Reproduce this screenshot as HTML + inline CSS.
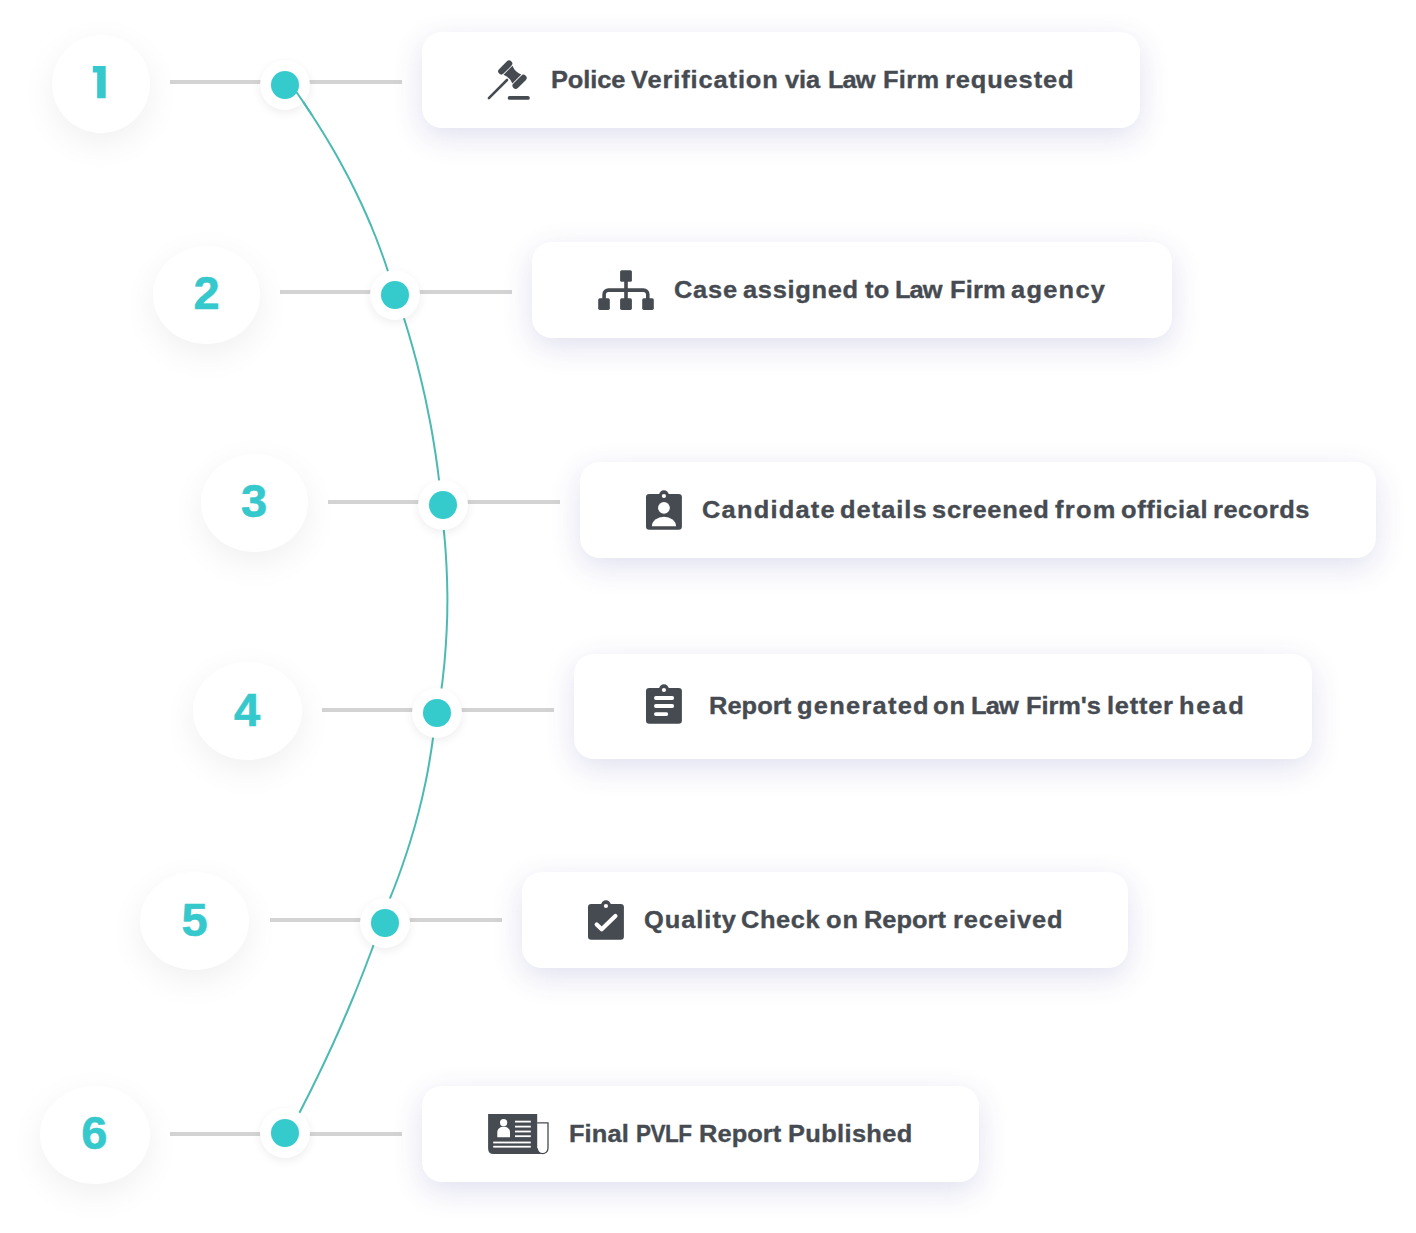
<!DOCTYPE html>
<html><head><meta charset="utf-8">
<style>
*{margin:0;padding:0;box-sizing:border-box}
html,body{width:1416px;height:1233px;background:#fff;overflow:hidden}
body{position:relative;font-family:"Liberation Sans",sans-serif}
.num{position:absolute;background:#fff;border-radius:50%;box-shadow:0 10px 34px rgba(0,0,0,0.062);}
.num span{position:absolute;left:0;right:0;top:50%;text-align:center;font-weight:bold;font-size:47px;line-height:1;color:#35c8cc;-webkit-text-stroke:0.6px #35c8cc;transform:translateY(calc(-50% - 2.2px))}
.gl{position:absolute;height:4px;background:#d3d3d3}
.halo{position:absolute;width:50px;height:50px;border-radius:50%;background:#fff;box-shadow:0 3px 10px rgba(0,0,0,0.07)}
.dot{position:absolute;width:28px;height:28px;border-radius:50%;background:#35cbcc}
.card{position:absolute;background:#fff;border-radius:20px;box-shadow:0 9px 30px rgba(60,60,160,0.16)}
.txt{position:absolute;left:0;white-space:nowrap;font-weight:bold;font-size:24px;line-height:1;color:#464b52;-webkit-text-stroke:0.35px #464b52}
.txt span{position:absolute;top:0;transform-origin:0 0;white-space:nowrap}
.ic{position:absolute}
</style></head><body>

<!-- gray lines -->
<div class="gl" style="left:170px;top:80px;width:232px"></div>
<div class="gl" style="left:280px;top:290px;width:232px"></div>
<div class="gl" style="left:328px;top:500px;width:232px"></div>
<div class="gl" style="left:322px;top:708px;width:232px"></div>
<div class="gl" style="left:270px;top:918px;width:232px"></div>
<div class="gl" style="left:170px;top:1132px;width:232px"></div>

<!-- curve under halos -->
<svg style="position:absolute;left:0;top:0" width="1416" height="1233"><path d="M291.4,85.0 L295.0,90.0 L298.5,95.0 L301.9,100.0 L305.3,105.0 L308.6,110.0 L311.9,115.0 L315.1,120.0 L318.3,125.0 L321.4,130.0 L324.5,135.0 L327.5,140.0 L330.5,145.0 L333.4,150.0 L336.3,155.0 L339.1,160.0 L341.8,165.0 L344.5,170.0 L347.2,175.0 L349.8,180.0 L352.3,185.0 L354.8,190.0 L357.2,195.0 L359.6,200.0 L362.0,205.0 L364.2,210.0 L366.5,215.0 L368.6,220.0 L370.8,225.0 L372.8,230.0 L374.9,235.0 L376.8,240.0 L378.7,245.0 L380.6,250.0 L382.4,255.0 L384.2,260.0 L385.9,265.0 L387.5,270.0 L389.1,275.0 L390.7,280.0 L392.1,285.0 L393.6,290.0 L395.0,295.0 M396.3,295.0 L398.0,300.0 L399.7,305.0 L401.3,310.0 L402.9,315.0 L404.5,320.0 L406.1,325.0 L407.6,330.0 L409.1,335.0 L410.5,340.0 L412.0,345.0 L413.4,350.0 L414.7,355.0 L416.1,360.0 L417.4,365.0 L418.6,370.0 L419.9,375.0 L421.1,380.0 L422.3,385.0 L423.4,390.0 L424.6,395.0 L425.7,400.0 L426.7,405.0 L427.7,410.0 L428.7,415.0 L429.7,420.0 L430.7,425.0 L431.6,430.0 L432.5,435.0 L433.3,440.0 L434.1,445.0 L434.9,450.0 L435.7,455.0 L436.4,460.0 L437.1,465.0 L437.8,470.0 L438.4,475.0 L439.0,480.0 L439.6,485.0 L440.1,490.0 L440.6,495.0 L441.1,500.0 L441.6,505.0 M440.7,505.0 L441.4,510.1 L442.0,515.1 L442.7,520.2 L443.2,525.3 L443.8,530.4 L444.3,535.4 L444.8,540.5 L445.2,545.6 L445.6,550.7 L445.9,555.7 L446.2,560.8 L446.5,565.9 L446.7,571.0 L446.9,576.0 L447.1,581.1 L447.2,586.2 L447.3,591.2 L447.4,596.3 L447.4,601.4 L447.3,606.5 L447.3,611.5 L447.2,616.6 L447.0,621.7 L446.8,626.8 L446.6,631.8 L446.3,636.9 L446.0,642.0 L445.7,647.0 L445.3,652.1 L444.9,657.2 L444.5,662.3 L444.0,667.3 L443.4,672.4 L442.9,677.5 L442.3,682.6 L441.6,687.6 L440.9,692.7 L440.2,697.8 L439.5,702.9 L438.7,707.9 L437.8,713.0 M435.8,713.0 L435.3,718.0 L434.8,723.0 L434.2,728.0 L433.6,733.0 L433.0,738.0 L432.3,743.0 L431.6,748.0 L430.8,753.0 L430.0,758.0 L429.2,763.0 L428.3,768.0 L427.4,773.0 L426.4,778.0 L425.4,783.0 L424.3,788.0 L423.2,793.0 L422.1,798.0 L420.9,803.0 L419.6,808.0 L418.4,813.0 L417.0,818.0 L415.7,823.0 L414.3,828.0 L412.8,833.0 L411.3,838.0 L409.8,843.0 L408.2,848.0 L406.6,853.0 L404.9,858.0 L403.2,863.0 L401.5,868.0 L399.7,873.0 L397.9,878.0 L396.0,883.0 L394.1,888.0 L392.1,893.0 L390.1,898.0 L388.1,903.0 L386.0,908.0 L383.9,913.0 L381.7,918.0 L379.5,923.0 M381.4,923.0 L379.6,928.0 L377.9,933.0 L376.1,938.0 L374.3,943.0 L372.5,948.0 L370.6,953.0 L368.7,958.0 L366.8,963.0 L364.9,968.0 L363.0,973.0 L361.0,978.0 L359.0,983.0 L357.0,988.0 L355.0,993.0 L352.9,998.0 L350.8,1003.0 L348.7,1008.0 L346.6,1013.0 L344.4,1018.0 L342.3,1023.0 L340.1,1028.0 L337.9,1033.0 L335.6,1038.0 L333.4,1043.0 L331.1,1048.0 L328.8,1053.0 L326.4,1058.0 L324.1,1063.0 L321.7,1068.0 L319.3,1073.0 L316.9,1078.0 L314.4,1083.0 L312.0,1088.0 L309.5,1093.0 L307.0,1098.0 L304.4,1103.0 L301.9,1108.0 L299.3,1113.0 L296.7,1118.0 L294.0,1123.0 L291.4,1128.0 L288.7,1133.0" fill="none" stroke="#4cbab2" stroke-width="2"/></svg>

<!-- halos -->
<div class="halo" style="left:260px;top:60px"></div>
<div class="halo" style="left:370px;top:270px"></div>
<div class="halo" style="left:418px;top:480px"></div>
<div class="halo" style="left:412px;top:688px"></div>
<div class="halo" style="left:360px;top:898px"></div>
<div class="halo" style="left:260px;top:1108px"></div>

<!-- curve over halo 1 -->
<svg style="position:absolute;left:0;top:0" width="1416" height="130"><path d="M291.4,85.0 L295.0,90.0 L298.5,95.0 L301.9,100.0 L305.3,105.0 L308.6,110.0 L311.9,115.0" fill="none" stroke="#4cbab2" stroke-width="2"/></svg>

<!-- dots -->
<div class="dot" style="left:271px;top:71px"></div>
<div class="dot" style="left:381px;top:281px"></div>
<div class="dot" style="left:429px;top:491px"></div>
<div class="dot" style="left:423px;top:699px"></div>
<div class="dot" style="left:371px;top:909px"></div>
<div class="dot" style="left:271px;top:1119px"></div>

<!-- number circles -->
<div class="num" style="left:52px;top:34.5px;width:98px;height:98px"><svg style="position:absolute;left:-52px;top:-34.5px" width="160" height="140"><path d="M92.9,66 H105.7 V98.2 H97.2 V72.6 H92.9 Z" fill="#35c8cc"/></svg></div>
<div class="num" style="left:153px;top:245.5px;width:107px;height:98px"><span>2</span></div>
<div class="num" style="left:200.5px;top:454px;width:107px;height:98px"><span>3</span></div>
<div class="num" style="left:192.5px;top:662px;width:109px;height:98px"><span style="margin-top:1px">4</span></div>
<div class="num" style="left:140px;top:872px;width:109px;height:98px"><span style="margin-top:1px">5</span></div>
<div class="num" style="left:40px;top:1086px;width:110px;height:98px"><span style="margin-left:-1.5px">6</span></div>

<!-- cards -->
<div class="card" style="left:422px;top:32px;width:718px;height:96px"></div>
<div class="card" style="left:532px;top:242px;width:640px;height:96px"></div>
<div class="card" style="left:580px;top:462px;width:796px;height:96px"></div>
<div class="card" style="left:574px;top:654px;width:738px;height:105px"></div>
<div class="card" style="left:522px;top:872px;width:606px;height:96px"></div>
<div class="card" style="left:422px;top:1086px;width:557px;height:96px"></div>

<!-- icons -->
<svg class="ic" style="left:482px;top:54px" width="55" height="52" viewBox="0 0 55 52">
 <g fill="#464b52" stroke="none">
  <line x1="6.9" y1="44.1" x2="25" y2="26" stroke="#464b52" stroke-width="2.6" stroke-linecap="round"/>
  <line x1="27.6" y1="43.9" x2="45.9" y2="43.9" stroke="#464b52" stroke-width="3.8" stroke-linecap="round"/>
  <g transform="translate(30.4,20.65) rotate(45)">
   <rect x="-13.3" y="-8.65" width="6.3" height="17.3" rx="3.1"/>
   <rect x="7" y="-8.65" width="6.3" height="17.3" rx="3.1"/>
   <path d="M-6.2,-6.3 Q0,-3.6 6.2,-6.3 L6.2,6.3 Q0,3.6 -6.2,6.3 Z"/>
  </g>
 </g>
</svg>

<svg class="ic" style="left:592px;top:264px" width="68" height="52" viewBox="0 0 68 52">
 <g fill="#464b52">
  <rect x="28.1" y="6.2" width="11.8" height="11.6" rx="1.6"/>
  <rect x="32.2" y="16" width="3.6" height="20"/>
  <path d="M12.1,36 V30.4 A4.3,4.3 0 0 1 16.4,26.1 H51.5 A4.3,4.3 0 0 1 55.8,30.4 V36" fill="none" stroke="#464b52" stroke-width="3.6"/>
  <rect x="6.2" y="34.3" width="11.6" height="11.6" rx="1.6"/>
  <rect x="28.1" y="34.3" width="11.8" height="11.6" rx="1.6"/>
  <rect x="50.2" y="34.3" width="11.6" height="11.6" rx="1.6"/>
 </g>
</svg>

<svg class="ic" style="left:638px;top:484px" width="52" height="52" viewBox="0 0 52 52">
 <g fill="#464b52">
  <rect x="8" y="10.1" width="35.9" height="35.7" rx="3.2"/>
  <circle cx="25.95" cy="11.2" r="4.9"/>
 </g>
 <g fill="#fff">
  <circle cx="25.95" cy="12" r="2.1"/>
  <circle cx="25.95" cy="23.8" r="5.9"/>
  <path d="M13.9,42.2 A12.05,9.5 0 0 1 38,42.2 Z"/>
 </g>
</svg>

<svg class="ic" style="left:638px;top:678px" width="52" height="52" viewBox="0 0 52 52">
 <g fill="#464b52">
  <rect x="8" y="10.1" width="35.9" height="35.7" rx="3.2"/>
  <circle cx="25.95" cy="11.2" r="4.9"/>
 </g>
 <g fill="#fff">
  <circle cx="25.95" cy="12" r="2.1"/>
  <rect x="16" y="18.1" width="20.1" height="3.8" rx="1.9"/>
  <rect x="16" y="26.1" width="20.1" height="3.8" rx="1.9"/>
  <rect x="16" y="34.2" width="14.2" height="3.8" rx="1.9"/>
 </g>
</svg>

<svg class="ic" style="left:580px;top:894px" width="52" height="52" viewBox="0 0 52 52">
 <g fill="#464b52">
  <rect x="8" y="10.1" width="35.9" height="35.7" rx="3.2"/>
  <circle cx="25.95" cy="11.2" r="4.9"/>
 </g>
 <circle cx="25.95" cy="12" r="2.1" fill="#fff"/>
 <polyline points="16.7,30.4 21.7,35.2 35.4,21.9" fill="none" stroke="#fff" stroke-width="4.2" stroke-linecap="round" stroke-linejoin="round"/>
</svg>

<svg class="ic" style="left:482px;top:1108px" width="72" height="52" viewBox="0 0 72 52">
 <path d="M6.1,6.1 H55.2 V40.3 A5.4,5.4 0 0 0 60.6,45.7 V46 H11.7 Q6.1,46 6.1,40.4 Z" fill="#464b52"/>
 <path d="M55.2,14.8 H66 V40.3 A5.4,5.4 0 0 1 55.2,40.3" fill="none" stroke="#464b52" stroke-width="1.3"/>
 <g fill="#fff">
  <circle cx="21.6" cy="14.7" r="3.6"/>
  <path d="M15.3,29.2 V24.5 C15.3,20.6 18.2,18.8 21.65,18.8 C25.1,18.8 28,20.6 28,24.5 V29.2 Z"/>
  <rect x="33" y="12.7" width="15.8" height="1.8"/>
  <rect x="33" y="17.7" width="15.8" height="1.8"/>
  <rect x="33" y="22.6" width="15.8" height="1.8"/>
  <rect x="33" y="27.3" width="15.8" height="1.8"/>
  <rect x="11.2" y="33.6" width="37.6" height="1.8"/>
  <rect x="11.2" y="37.8" width="37.6" height="1.8"/>
 </g>
</svg>

<!-- texts -->
<div class="txt" style="top:68px"><span style="left:550.5px;letter-spacing:-0.12px;transform:scaleX(1.060)">Police</span><span style="left:631.2px;letter-spacing:0.83px;transform:scaleX(1.060)">Verification</span><span style="left:784.7px;letter-spacing:-0.11px;transform:scaleX(1.060)">via</span><span style="left:828.0px;letter-spacing:-0.97px;transform:scaleX(1.060)">Law</span><span style="left:882.9px;letter-spacing:0.28px;transform:scaleX(1.060)">Firm</span><span style="left:945.0px;letter-spacing:0.82px;transform:scaleX(1.060)">requested</span></div>
<div class="txt" style="top:278px"><span style="left:673.9px;letter-spacing:0.70px;transform:scaleX(1.060)">Case</span><span style="left:742.9px;letter-spacing:0.64px;transform:scaleX(1.060)">assigned</span><span style="left:864.6px;letter-spacing:0.26px;transform:scaleX(1.060)">to</span><span style="left:895.0px;letter-spacing:-0.92px;transform:scaleX(1.060)">Law</span><span style="left:949.9px;letter-spacing:0.16px;transform:scaleX(1.060)">Firm</span><span style="left:1011.3px;letter-spacing:1.18px;transform:scaleX(1.060)">agency</span></div>
<div class="txt" style="top:498px"><span style="left:701.6px;letter-spacing:1.14px;transform:scaleX(1.060)">Candidate</span><span style="left:840.4px;letter-spacing:0.94px;transform:scaleX(1.060)">details</span><span style="left:932.3px;letter-spacing:0.69px;transform:scaleX(1.060)">screened</span><span style="left:1055.4px;letter-spacing:1.19px;transform:scaleX(1.060)">from</span><span style="left:1120.8px;letter-spacing:0.61px;transform:scaleX(1.060)">official</span><span style="left:1212.8px;letter-spacing:0.48px;transform:scaleX(1.060)">records</span></div>
<div class="txt" style="top:694.3px"><span style="left:708.6px;letter-spacing:0.03px;transform:scaleX(1.060)">Report</span><span style="left:796.8px;letter-spacing:1.18px;transform:scaleX(1.060)">generated</span><span style="left:933.2px;letter-spacing:1.02px;transform:scaleX(1.060)">on</span><span style="left:971.1px;letter-spacing:-0.83px;transform:scaleX(1.060)">Law</span><span style="left:1026.1px;letter-spacing:-0.10px;transform:scaleX(1.060)">Firm's</span><span style="left:1107.3px;letter-spacing:0.70px;transform:scaleX(1.060)">letter</span><span style="left:1179.4px;letter-spacing:1.70px;transform:scaleX(1.060)">head</span></div>
<div class="txt" style="top:908px"><span style="left:644.0px;letter-spacing:0.90px;transform:scaleX(1.060)">Quality</span><span style="left:741.3px;letter-spacing:0.53px;transform:scaleX(1.060)">Check</span><span style="left:826.4px;letter-spacing:0.83px;transform:scaleX(1.060)">on</span><span style="left:864.3px;letter-spacing:-0.01px;transform:scaleX(1.060)">Report</span><span style="left:952.8px;letter-spacing:0.85px;transform:scaleX(1.060)">received</span></div>
<div class="txt" style="top:1122px"><span style="left:569.2px;letter-spacing:0.08px;transform:scaleX(1.060)">Final</span><span style="left:636.3px;letter-spacing:-0.50px;transform:scaleX(0.938)">PVLF</span><span style="left:699.0px;letter-spacing:0.05px;transform:scaleX(1.060)">Report</span><span style="left:787.8px;letter-spacing:0.32px;transform:scaleX(1.060)">Published</span></div>

</body></html>
